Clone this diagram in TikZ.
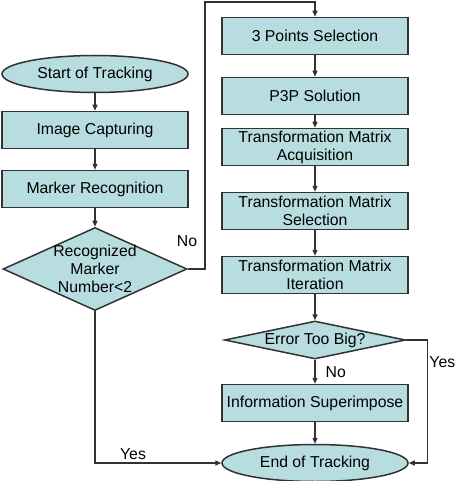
\documentclass[tikz,border=0pt]{standalone}
\usepackage{fontspec}
\setmainfont{Liberation Sans}
\usepackage{xcolor}
\usetikzlibrary{shapes.geometric,positioning,arrows.meta,calc}
\definecolor{boxfill}{RGB}{183,221,224}
\definecolor{edge}{RGB}{50,50,50}

\begin{document}
\begin{tikzpicture}[
  x=1pt, y=-1pt,
  every node/.style={font=\fontsize{15.8}{18}\selectfont},
  box/.style={draw=edge, line width=1.5pt, fill=boxfill, rectangle, align=center,
              inner sep=2pt, minimum width=186pt, minimum height=37pt},
  term/.style={draw=edge, line width=1.5pt, fill=boxfill, ellipse,
               inner sep=0pt, minimum width=186pt, minimum height=37pt},
  dec/.style={draw=edge, line width=1.5pt, fill=boxfill, diamond, inner sep=0pt},
  ar/.style={-{Triangle[length=6pt,width=5pt]}, line width=1.3pt, draw=edge},
  lab/.style={inner sep=2pt},
]
\useasboundingbox (0,0) rectangle (474,481);
% left column
\node[term] (start) at (95,74) {Start of Tracking};
\node[box] (cap) at (95,130) {Image Capturing};
\node[box] (rec) at (95,189) {Marker Recognition};
\node[dec, minimum width=184pt, minimum height=83pt,
      label={[align=center]center:Recognized\\Marker\\Number<2}] (num) at (95,269) {};
% right column
\node[box] (sel) at (315,36) {3 Points Selection};
\node[box] (p3p) at (315,96) {P3P Solution};
\node[box] (acq) at (315,147) {Transformation Matrix\\Acquisition};
\node[box] (msel) at (315,211) {Transformation Matrix\\Selection};
\node[box] (iter) at (315,275) {Transformation Matrix\\Iteration};
\node[dec, minimum width=181pt, minimum height=38pt,
      label={center:Error Too Big?}] (err) at (315,340) {};
\node[box] (sup) at (315,403) {Information Superimpose};
\node[term] (stop) at (315,463) {End of Tracking};
\coordinate (noBend) at (205,2);
\draw[ar] (start) -- (cap);
\draw[ar] (cap) -- (rec);
\draw[ar] (rec) -- (num);
\draw[ar] (num.east) -| (noBend) -| (sel.north);
\node[lab] (noA) at (187,241) {No};
\draw[ar] (sel) -- (p3p);
\draw[ar] (p3p) -- (acq);
\draw[ar] (acq) -- (msel);
\draw[ar] (msel) -- (iter);
\draw[ar] (iter) -- (err);
\draw[ar] (err) -- node[lab, right=8pt] (noB) {No} (sup);
\draw[ar] (sup) -- (stop);
\draw[ar] (err.east) -- ++(21,0) coordinate (yesBend) |- (stop.east);
\node[lab, right] (yesB) at ($(yesBend)+(0,22)$) {Yes};
\draw[ar] (num.south) |- (stop.west);
\node[lab, anchor=south] (yesA) at (133,462) {Yes};
\end{tikzpicture}
\end{document}
